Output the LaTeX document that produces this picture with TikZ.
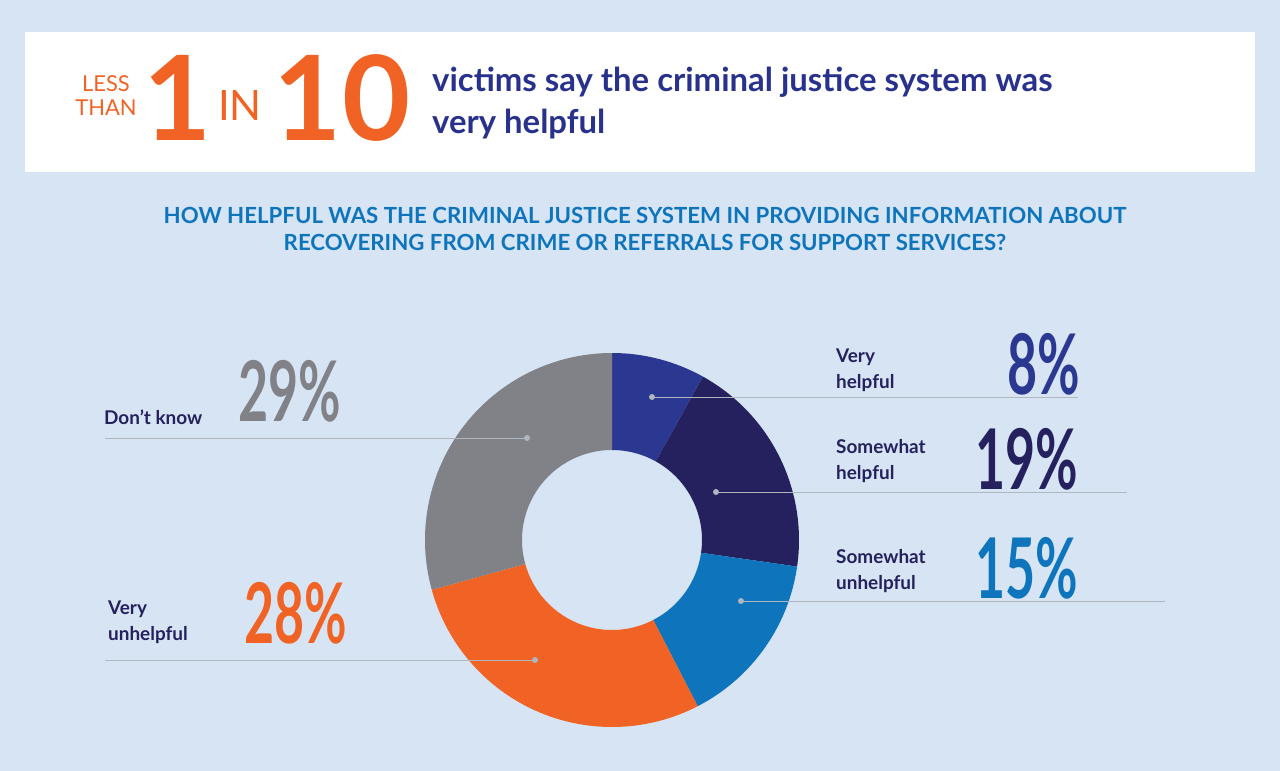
\documentclass[tikz,border=0pt]{standalone}
\usepackage{fontspec}
\setmainfont{Lato}
\newfontfamily\numfont{Lato}
\usetikzlibrary{positioning,calc}
\definecolor{bgblue}{RGB}{214,228,243}
\definecolor{orng}{RGB}{241,99,36}
\definecolor{navy}{RGB}{37,33,94}
\definecolor{royal}{RGB}{43,56,145}
\definecolor{midblue}{RGB}{14,117,188}
\definecolor{greyseg}{RGB}{128,130,135}
\definecolor{leader}{RGB}{175,182,192}
\definecolor{headblue}{RGB}{40,50,140}
\tikzset{
  lbl/.style={text=navy, font=\bfseries\fontsize{19}{26}\selectfont, align=left, inner sep=0pt},
  pct/.style={font=\numfont\bfseries\fontsize{84}{84}\selectfont, inner sep=0pt},
  lead/.style={leader, line width=0.8bp},
  dot/.style={circle, fill=leader, inner sep=0pt, minimum size=6bp}
}
\newcommand{\narrow}[1]{\scalebox{0.62}[1]{#1}}
\begin{document}
\begin{tikzpicture}[x=1bp,y=-1bp]
    \fill[bgblue] (0,0) rectangle (1280,771);
    \useasboundingbox (0,0) rectangle (1280,771);
    % banner
    \fill[white] (25,32) rectangle (1255,172);
    \node[text=orng, font=\fontsize{22}{24}\selectfont, align=center, inner sep=0pt] (less) at (106,96) {LESS\\THAN};
    \node[text=orng, font=\bfseries\fontsize{118}{118}\selectfont, inner sep=0pt, anchor=center] (one) at (178,98) {1};
    \node[text=orng, font=\fontsize{42}{42}\selectfont, inner sep=0pt] (in) at (240,106) {IN};
    \node[text=orng, font=\bfseries\fontsize{118}{118}\selectfont, inner sep=0pt] (ten) at (342,98) {10};
    \node[text=headblue, font=\bfseries\fontsize{33}{42}\selectfont, align=left, anchor=west, inner sep=0pt] (head) at (432,103)
      {victims say the criminal justice system was\\very helpful};
    % question
    \node[text=midblue, font=\bfseries\fontsize{22.3}{28}\selectfont, align=center, inner sep=0pt] (question) at (645,229)
      {HOW HELPFUL WAS THE CRIMINAL JUSTICE SYSTEM IN PROVIDING INFORMATION ABOUT\\RECOVERING FROM CRIME OR REFERRALS FOR SUPPORT SERVICES?};
    % donut
    \coordinate (c) at (612,540);
    \foreach \a/\b/\col in {-90/-60.91/royal, -60.91/8.18/navy, 8.18/62.73/midblue, 62.73/164.55/orng, 164.55/270/greyseg}{
      \fill[\col] (c) ++(\a:187) arc[start angle=\a, end angle=\b, radius=187]
        -- ($(c)+(\b:90)$) arc[start angle=\b, end angle=\a, radius=90] -- cycle;
    }
    % leaders
    \node[dot] (d1) at (652,397) {};
    \node[dot] (d2) at (716,492) {};
    \node[dot] (d3) at (741,601) {};
    \node[dot] (d4) at (535,660) {};
    \node[dot] (d5) at (527,438) {};
    \coordinate (e1) at (1078,397);
    \coordinate (e2) at (1127,492);
    \coordinate (e3) at (1165,601);
    \coordinate (e4) at (105,660);
    \coordinate (e5) at (105,438);
    \foreach \i in {1,...,5} \draw[lead] (d\i) -- (e\i);
    % labels
    \node[lbl, anchor=west] (l1) at (836,370) {Very\\helpful};
    \node[pct, text=royal, anchor=east] (p1) at (1080,364) {\narrow{8\%}};
    \node[lbl, anchor=west] (l2) at (836,461) {Somewhat\\helpful};
    \node[pct, text=navy, anchor=east] (p2) at (1078,459) {\narrow{19\%}};
    \node[lbl, anchor=west] (l3) at (836,571) {Somewhat\\unhelpful};
    \node[pct, text=midblue, anchor=east] (p3) at (1078,568) {\narrow{15\%}};
    \node[lbl, anchor=west] (l5) at (104,417) {Don’t know};
    \node[pct, text=greyseg, anchor=west] (p5) at (238,391) {\narrow{29\%}};
    \node[lbl, anchor=west] (l4) at (108,622) {Very\\unhelpful};
    \node[pct, text=orng, anchor=west] (p4) at (244,613) {\narrow{28\%}};
\end{tikzpicture}
\end{document}
